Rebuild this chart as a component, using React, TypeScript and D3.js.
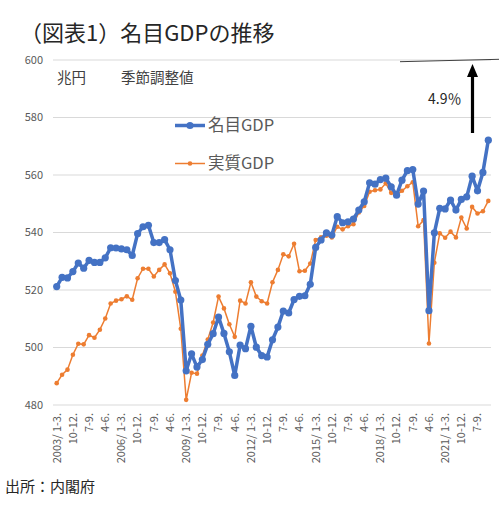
import { useEffect, useRef } from "react";
import * as d3 from "d3";

// quarterly, 2003 Q1 .. 2023 Q1 (兆円, 季節調整値)
const years = d3.range(2003, 2024);
const quarters = years.flatMap(y => ["1-3", "4-6", "7-9", "10-12"].map(q => `${y}/${q}`)).slice(0, 81);

const nominal = [
  521.2, 524.4, 524.2, 526.4, 529.4, 527.6, 530.3, 529.6, 529.6, 531.2,
  534.7, 534.6, 534.3, 534.0, 532.0, 539.6, 542.0, 542.5, 536.5, 536.5,
  537.5, 534.0, 523.3, 516.5, 491.9, 497.8, 493.2, 495.8, 501.1, 504.8,
  510.6, 504.9, 498.5, 490.3, 500.8, 499.6, 507.4, 500.1, 497.2, 496.7,
  502.7, 507.1, 512.7, 512.0, 516.7, 517.8, 518.0, 522.0, 534.8, 537.4,
  539.9, 539.1, 545.5, 543.4, 543.7, 544.7, 547.8, 550.7, 557.3, 556.8,
  558.4, 558.9, 555.9, 553.0, 558.2, 561.5, 561.9, 549.9, 554.4, 512.8,
  539.9, 548.4, 548.2, 551.3, 547.8, 551.5, 552.4, 559.6, 554.5, 560.9,
  572.1,
];

const real = [
  487.6, 490.5, 492.3, 497.5, 501.3, 501.1, 504.3, 503.4, 506.2, 510.1,
  515.3, 516.3, 516.8, 517.8, 516.6, 524.1, 527.4, 527.4, 524.7, 527.0,
  528.9, 525.8, 519.4, 506.5, 481.8, 491.2, 490.9, 497.2, 502.8, 508.7,
  517.7, 513.6, 508.1, 503.7, 516.3, 515.3, 522.7, 517.7, 516.1, 515.3,
  522.7, 527.0, 532.4, 531.7, 536.1, 526.5, 526.7, 529.2, 537.4, 538.3,
  538.9, 538.3, 542.0, 541.1, 542.2, 542.9, 547.0, 549.2, 554.2, 554.7,
  555.0, 557.1, 553.8, 553.0, 554.5, 556.1, 557.5, 542.2, 544.3, 501.4,
  529.5, 539.7, 538.2, 540.3, 538.3, 545.2, 541.4, 548.9, 546.6, 547.4,
  551.0,
];

// one label every third quarter
const tickLabels = [
  "2003/ 1-3.", "10-12.", "7-9.", "4-6.",
  "2006/ 1-3.", "10-12.", "7-9.", "4-6.",
  "2009/ 1-3.", "10-12.", "7-9.", "4-6.",
  "2012/ 1-3.", "10-12.", "7-9.", "4-6.",
  "2015/ 1-3.", "10-12.", "7-9.", "4-6.",
  "2018/ 1-3.", "10-12.", "7-9.", "4-6.",
  "2021/ 1-3.", "10-12.", "7-9.",
];

const yTicks = [480, 500, 520, 540, 560, 580, 600];

const BLUE = "#4472C4";
const ORANGE = "#ED7D31";
const GRAY = "#595959";
const FONT = "'Noto Sans CJK JP', 'Noto Sans', sans-serif";

export default function App() {
  const svgRef = useRef<SVGSVGElement>(null);

  useEffect(() => {
    const svg = d3.select(svgRef.current);
    svg.selectAll("*").remove();

    const x = d3.scalePoint<string>().domain(quarters).range([56.7, 488.3]);
    const y = d3.scaleLinear().domain([480, 600]).range([405, 60]);

    svg.append("rect").attr("width", 499).attr("height", 509).attr("fill", "#fff");

    // Title
    svg.append("text")
      .attr("x", 20).attr("y", 41)
      .attr("font-size", 22).attr("fill", "#262626")
      .attr("font-family", FONT)
      .text("（図表1）名目GDPの推移");

    // Grid + y labels
    svg.selectAll(".hg").data(yTicks).enter().append("line")
      .attr("x1", 53).attr("x2", 491)
      .attr("y1", d => y(d)).attr("y2", d => y(d))
      .attr("stroke", "#d9d9d9").attr("stroke-width", 1.2);

    svg.selectAll(".yl").data(yTicks).enter().append("text")
      .attr("x", 43).attr("y", d => y(d)).attr("dy", "0.35em")
      .attr("text-anchor", "end")
      .attr("font-size", 11).attr("fill", GRAY).attr("font-family", FONT)
      .text(d => d);

    // X labels
    const tickCats = quarters.filter((_, i) => i % 3 === 0);
    tickCats.forEach((c, i) => {
      svg.append("text")
        .attr("transform", `translate(${x(c)},413) rotate(-90)`)
        .attr("dy", "0.35em")
        .attr("text-anchor", "end")
        .attr("font-size", 11).attr("fill", GRAY).attr("font-family", FONT)
        .text(tickLabels[i]);
    });

    // Units
    svg.append("text").attr("x", 57).attr("y", 83)
      .attr("font-size", 14.5).attr("fill", "#404040").attr("font-family", FONT)
      .text("兆円");
    svg.append("text").attr("x", 121).attr("y", 83)
      .attr("font-size", 14.5).attr("fill", "#404040").attr("font-family", FONT)
      .text("季節調整値");

    // Real GDP
    const line = d3.line<number>().x((_, i) => x(quarters[i])!).y(d => y(d));
    svg.append("path").datum(real)
      .attr("d", line).attr("fill", "none")
      .attr("stroke", ORANGE).attr("stroke-width", 1.5);
    svg.selectAll(".rp").data(real).enter().append("circle")
      .attr("cx", (_, i) => x(quarters[i])!).attr("cy", d => y(d))
      .attr("r", 2.3).attr("fill", ORANGE);

    // Nominal GDP
    svg.append("path").datum(nominal)
      .attr("d", line).attr("fill", "none")
      .attr("stroke", BLUE).attr("stroke-width", 3.5)
      .attr("stroke-linejoin", "round");
    svg.selectAll(".np").data(nominal).enter().append("circle")
      .attr("cx", (_, i) => x(quarters[i])!).attr("cy", d => y(d))
      .attr("r", 3.6).attr("fill", BLUE);

    // Legend
    const legend = [
      { label: "名目GDP", color: BLUE, w: 3.5, r: 3.6, ly: 125.5 },
      { label: "実質GDP", color: ORANGE, w: 1.5, r: 2.3, ly: 163.5 },
    ];
    legend.forEach(l => {
      svg.append("line").attr("x1", 175).attr("x2", 205)
        .attr("y1", l.ly).attr("y2", l.ly)
        .attr("stroke", l.color).attr("stroke-width", l.w);
      svg.append("circle").attr("cx", 190).attr("cy", l.ly).attr("r", l.r).attr("fill", l.color);
      svg.append("text").attr("x", 208).attr("y", l.ly).attr("dy", "0.36em")
        .attr("font-size", 16.5).attr("fill", GRAY).attr("font-family", FONT)
        .text(l.label);
    });

    // Target line and arrow
    svg.append("line").attr("x1", 400).attr("y1", 61.7).attr("x2", 499).attr("y2", 59.3)
      .attr("stroke", "#404040").attr("stroke-width", 1);
    svg.append("line").attr("x1", 472.5).attr("x2", 472.5).attr("y1", 133).attr("y2", 75)
      .attr("stroke", "#000").attr("stroke-width", 3.2);
    svg.append("path").attr("d", "M472.5,64 L478,77 L467,77 Z").attr("fill", "#000");
    svg.append("text").attr("x", 428).attr("y", 104)
      .attr("font-size", 14).attr("fill", "#262626").attr("font-family", FONT)
      .text("4.9％");

    // Source
    svg.append("text").attr("x", 5).attr("y", 492)
      .attr("font-size", 15).attr("fill", "#262626").attr("font-family", FONT)
      .text("出所：内閣府");
  }, []);

  return (
    <svg ref={svgRef} width={499} height={509}
      style={{ position: "absolute", left: 0, top: 0 }} />
  );
}
